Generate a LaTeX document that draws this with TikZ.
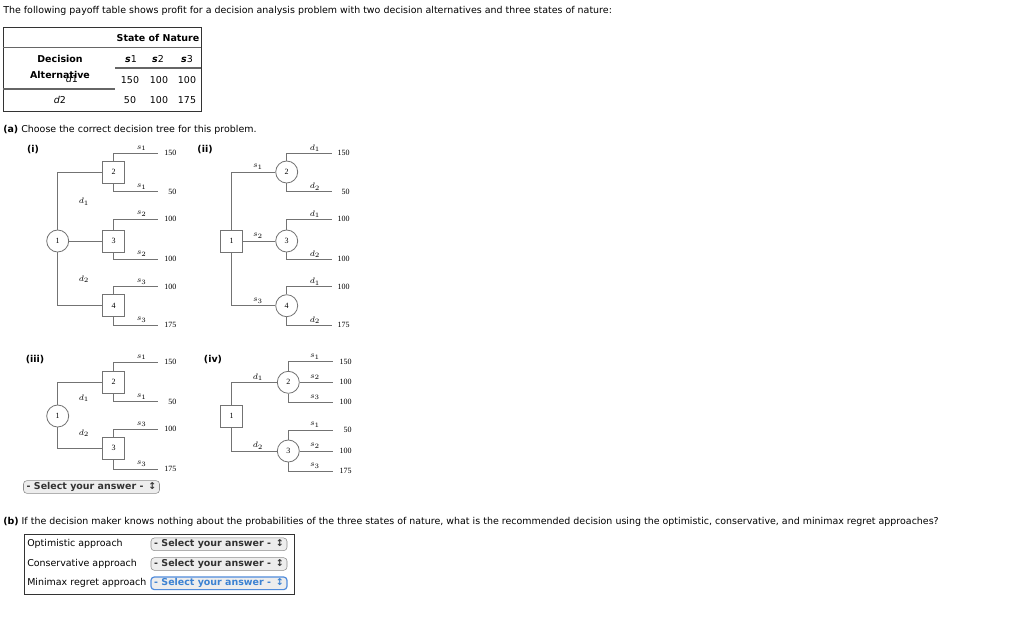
\documentclass[tikz,border=0pt]{standalone}
\usepackage{fontspec}
\setmainfont{DejaVu Sans}
\newfontfamily\serifx{Liberation Serif}
\newcommand\fs{\fontsize{7.1}{8.5}\selectfont}
\newcommand\fb{\fontsize{7.1}{8.5}\selectfont\bfseries}
\newcommand\tf{\serifx\fontsize{6}{7}\selectfont}
\begin{document}
\begin{tikzpicture}[x=0.75pt,y=-0.75pt,
  txt/.style={font=\fs,inner sep=0,anchor=west},
  btxt/.style={font=\fb,inner sep=0},
  tl/.style={draw=black!55,line width=0.6pt},
  sq/.style={draw=black!55,line width=0.6pt,minimum size=16.5pt,inner sep=0,font=\tf,fill=white},
  cir/.style={draw=black!55,line width=0.6pt,circle,minimum size=16.5pt,inner sep=0,font=\tf,fill=white},
  pay/.style={font=\tf,inner sep=0,anchor=east},
  lab/.style={font=\tf,inner sep=0},
  sel/.style={draw=black!45,rounded corners=2.5pt,fill=black!7,minimum width=102pt,minimum height=9.5pt,inner sep=0,font=\fb,text=black!80},
  selblue/.style={sel,draw={rgb,255:red,80;green,140;blue,220},line width=0.9pt,text={rgb,255:red,60;green,130;blue,210}}]
\useasboundingbox (0,0) rectangle (1024,617);
\fill[white] (0,0) rectangle (1024,617);
\node[txt] (title) at (3,11) {The following payoff table shows profit for a decision analysis problem with two decision alternatives and three states of nature:};
% table
\draw[black!80,line width=0.6pt] (3,27) rectangle (201,111);
\draw[black!60,line width=0.6pt] (3,47) -- (201,47);
\draw[black!60,line width=0.9pt] (115,68) -- (201,68);
\draw[black!60,line width=0.9pt] (3,89) -- (115,89);
\node[btxt] (son) at (158,38) {State of Nature};
\node[btxt] (dec) at (60,59) {Decision};
\node[btxt] (alt) at (60,75) {Alternative};
\node[btxt] (s1h) at (131,59) {\itshape s\normalfont\fs 1};
\node[btxt] (s2h) at (158,59) {\itshape s\normalfont\fs 2};
\node[btxt] (s3h) at (187,59) {\itshape s\normalfont\fs 3};
\node[font=\fs,inner sep=0] (d1t) at (72,79) {\itshape d\normalfont 1};
\node[font=\fs,inner sep=0] (d2t) at (60,100) {\itshape d\normalfont 2};
\foreach \x/\v/\w in {130/150/50,159/100/100,187/100/175}{
  \node[font=\fs,inner sep=0] at (\x,80) {\v};
  \node[font=\fs,inner sep=0] at (\x,100) {\w};}
\node[txt] (a) at (3,130) {\textbf{(a)} Choose the correct decision tree for this problem.};
% tree i
\node[btxt] (li) at (33,150) {(i)};
\node[cir] (i1) at (57.7,241) {1};
\node[sq] (i2) at (113.7,172) {2};
\node[sq] (i3) at (113.7,241) {3};
\node[sq] (i4) at (113.7,305.7) {4};
\draw[tl] (i1.north) |- (i2.west);
\draw[tl] (i1) -- (i3);
\draw[tl] (i1.south) |- (i4.west);
\foreach \n/\ya/\yb/\va/\vb/\la/\lb in {i2/153.3/191.7/150/50/1/1,i3/219/259/100/100/2/2,i4/286.7/325/100/175/3/3}{
  \coordinate (\n a) at (158,\ya); \coordinate (\n b) at (158,\yb);
  \draw[tl] (\n.north) |- (\n a); \draw[tl] (\n.south) |- (\n b);
  \node[pay] at (176.7,\ya) {\va}; \node[pay] at (176.7,\yb) {\vb};
  \node[lab] at (141.7,\ya-5) {$s_{\la}$}; \node[lab] at (141.7,\yb-5) {$s_{\lb}$};}
\node[lab] at (84,201.7) {$d_1$};
\node[lab] at (84,279) {$d_2$};
% tree ii
\node[btxt] (lii) at (205,150) {(ii)};
\node[sq] (ii1) at (231.7,241) {1};
\node[cir] (ii2) at (286.7,172) {2};
\node[cir] (ii3) at (286.7,241) {3};
\node[cir] (ii4) at (286.7,305.7) {4};
\draw[tl] (ii1.north) |- (ii2.west);
\draw[tl] (ii1) -- (ii3);
\draw[tl] (ii1.south) |- (ii4.west);
\node[lab] at (258,167) {$s_1$};
\node[lab] at (258,236) {$s_2$};
\node[lab] at (258,300.7) {$s_3$};
\foreach \n/\ya/\yb/\va/\vb in {ii2/153.3/191.7/150/50,ii3/219/259/100/100,ii4/286.7/325/100/175}{
  \coordinate (\n a) at (331.7,\ya); \coordinate (\n b) at (331.7,\yb);
  \draw[tl] (\n.north) |- (\n a); \draw[tl] (\n.south) |- (\n b);
  \node[pay] at (350,\ya) {\va}; \node[pay] at (350,\yb) {\vb};
  \node[lab] at (315,\ya-5) {$d_1$}; \node[lab] at (315,\yb-5) {$d_2$};}
% tree iii
\node[btxt] (liii) at (35,360) {(iii)};
\node[cir] (iii1) at (57.7,416) {1};
\node[sq] (iii2) at (113.7,382.3) {2};
\node[sq] (iii3) at (113.7,448.3) {3};
\draw[tl] (iii1.north) |- (iii2.west);
\draw[tl] (iii1.south) |- (iii3.west);
\foreach \n/\ya/\yb/\va/\vb/\la in {iii2/362.3/401.7/150/50/1,iii3/429.3/469/100/175/3}{
  \coordinate (\n a) at (158,\ya); \coordinate (\n b) at (158,\yb);
  \draw[tl] (\n.north) |- (\n a); \draw[tl] (\n.south) |- (\n b);
  \node[pay] at (176.7,\ya) {\va}; \node[pay] at (176.7,\yb) {\vb};
  \node[lab] at (141.7,\ya-5) {$s_{\la}$}; \node[lab] at (141.7,\yb-5) {$s_{\la}$};}
\node[lab] at (84,398) {$d_1$};
\node[lab] at (84,433) {$d_2$};
\node[sel,minimum width=102pt] (selA) at (91.5,487) {- Select your answer - \,\fs ↕};
% tree iv
\node[btxt] (liv) at (213,360) {(iv)};
\node[sq] (iv1) at (231.7,416) {1};
\node[cir] (iv2) at (288.3,382.3) {2};
\node[cir] (iv3) at (288.3,451) {3};
\draw[tl] (iv1.north) |- (iv2.west);
\draw[tl] (iv1.south) |- (iv3.west);
\node[lab] at (258,377) {$d_1$};
\node[lab] at (258,445.7) {$d_2$};
\foreach \n/\y/\ya/\yb/\va/\vm/\vb in {iv2/382.3/361.7/402.3/150/100/100,iv3/451/430/471/50/100/175}{
  \coordinate (\n a) at (333.3,\ya); \coordinate (\n m) at (333.3,\y); \coordinate (\n b) at (333.3,\yb);
  \draw[tl] (\n.north) |- (\n a); \draw[tl] (\n) -- (\n m); \draw[tl] (\n.south) |- (\n b);
  \node[pay] at (352,\ya) {\va}; \node[pay] at (352,\y) {\vm}; \node[pay] at (352,\yb) {\vb};
  \node[lab] at (315,\ya-5) {$s_1$}; \node[lab] at (315,\y-5) {$s_2$}; \node[lab] at (315,\yb-5) {$s_3$};}
% part b
\node[txt] (b) at (3,522) {\textbf{(b)} If the decision maker knows nothing about the probabilities of the three states of nature, what is the recommended decision using the optimistic, conservative, and minimax regret approaches?};
\draw[black!80,line width=0.6pt] (24,534) rectangle (294,594);
\node[txt] (o) at (27,544.3) {Optimistic approach};
\node[txt] (c) at (27,564) {Conservative approach};
\node[txt] (m) at (27,583.3) {Minimax regret approach};
\node[sel] (s1) at (219,544.3) {- Select your answer - \,\fs ↕};
\node[sel] (s2) at (219,564) {- Select your answer - \,\fs ↕};
\node[selblue] (s3) at (219,583.3) {- Select your answer - \,\fs ↕};
\end{tikzpicture}
\end{document}
